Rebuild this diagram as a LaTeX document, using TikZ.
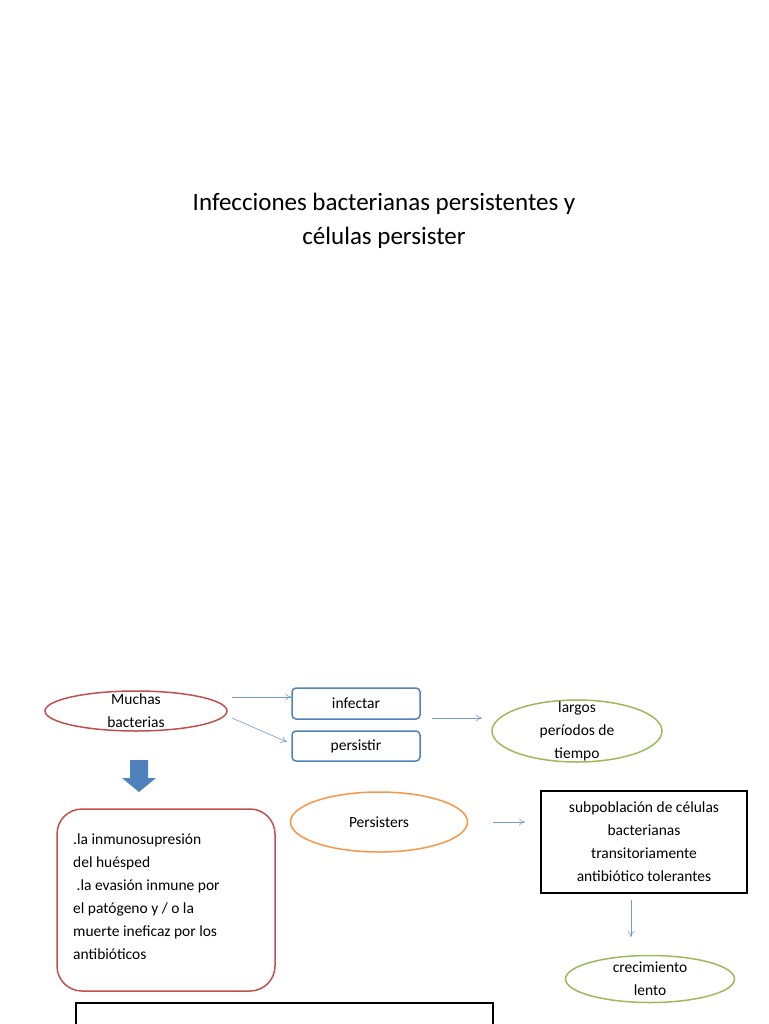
\documentclass[tikz,border=0pt]{standalone}
\usepackage{fontspec}
\setmainfont{Carlito}
\usetikzlibrary{shapes.geometric,arrows.meta}
\definecolor{cred}{RGB}{192,80,77}
\definecolor{cblue}{RGB}{79,129,189}
\definecolor{cgreen}{RGB}{155,187,89}
\definecolor{corange}{RGB}{247,150,70}
\tikzset{
  txt/.style={font=\fontsize{15.5}{23}\selectfont, align=center, inner sep=0},
  ell/.style={ellipse, draw, line width=1.5pt, inner sep=0},
  bbox/.style={draw=cblue, line width=1.5pt, rounded corners=4pt},
  conn/.style={draw=cblue!80!white, line width=0.6pt, -{To[length=6pt,width=7pt]}},
}
\begin{document}
\begin{tikzpicture}[x=1pt,y=-1pt]
\useasboundingbox (0,0) rectangle (768,1024);
\node[font=\fontsize{25}{34}\selectfont, align=center] (title) at (384,221) {Infecciones bacterianas persistentes y\\células persister};

\node[ell, draw=cred, minimum width=182pt, minimum height=40pt] (much) at (136,711) {};
\node[txt] (muchT) at (136,711) {Muchas\\bacterias};

\node[bbox, minimum width=128pt, minimum height=31pt] (inf) at (356,703.5) {};
\node[txt] at (inf) {infectar};
\node[bbox, minimum width=128pt, minimum height=30pt] (per) at (356,746) {};
\node[txt] at (per) {persistir};

\node[ell, draw=cgreen, minimum width=170pt, minimum height=62pt] (lar) at (577,731) {};
\node[txt] at (577,731) {largos\\períodos de\\tiempo};

\coordinate (a1) at (232,697); \coordinate (a2) at (232,718);
\draw[conn] (a1) -- (inf.west |- a1);
\draw[conn] (a2) -- (287,742);
\coordinate (b1) at (432,718); \coordinate (b2) at (482,718);
\draw[conn] (b1) -- (b2);

\fill[cblue] (130,760) -- (148,760) -- (148,778) -- (156,778) -- (139,792) -- (122,778) -- (130,778) -- cycle;

\draw[cred, line width=1.5pt, rounded corners=25pt] (57,809) rectangle (275,991);
\node[txt, align=left, anchor=north west] (list) at (73,834) {.la inmunosupresión\\del huésped\\\ .la evasión inmune por\\el patógeno y / o la\\muerte ineficaz por los\\antibióticos};

\node[ell, draw=corange, minimum width=177pt, minimum height=60pt] (pers) at (379,822) {};
\node[txt] at (pers) {Persisters};

\node[draw, line width=1.3pt, minimum width=206pt, minimum height=102pt, txt] (sub) at (644,842) {subpoblación de células\\bacterianas\\transitoriamente\\antibiótico tolerantes};
\coordinate (c1) at (493,822);
\draw[conn] (c1) -- (525,822);

\node[ell, draw=cgreen, minimum width=169pt, minimum height=47pt] (cre) at (650,979) {};
\node[txt] at (cre) {crecimiento\\lento};
\coordinate (d2) at (631,937);
\draw[conn] (631,900) -- (d2);

\draw[line width=1.3pt] (76,1030) -- (76,1003) -- (493,1003) -- (493,1030);
\end{tikzpicture}
\end{document}
